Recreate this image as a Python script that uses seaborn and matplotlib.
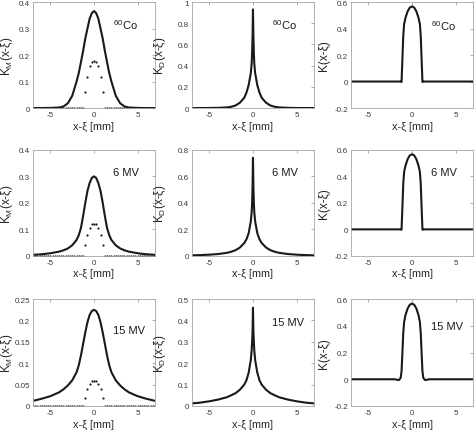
import numpy as np
import matplotlib
matplotlib.use("Agg")
import matplotlib.pyplot as plt
import seaborn as sns

# ---- data ----
km_x = [-7, -6, -5, -4, -3.5, -3, -2.5, -2, -1.75, -1.5, -1.25, -1, -0.75, -0.5, -0.25, 0,
        0.25, 0.5, 0.75, 1, 1.25, 1.5, 1.75, 2, 2.5, 3, 3.5, 4, 5, 6, 7]
km_co = [0, 0, 0.0005, 0.002, 0.006, 0.018, 0.046, 0.1, 0.132, 0.173, 0.215, 0.262, 0.3, 0.337, 0.358, 0.366,
         0.358, 0.337, 0.3, 0.262, 0.215, 0.173, 0.132, 0.1, 0.046, 0.018, 0.006, 0.002, 0.0005, 0, 0]
km_6mv = [0.004, 0.006, 0.01, 0.016, 0.021, 0.028, 0.04, 0.06, 0.078, 0.105, 0.15, 0.2, 0.245, 0.275, 0.294, 0.3,
          0.294, 0.275, 0.245, 0.2, 0.15, 0.105, 0.078, 0.06, 0.04, 0.028, 0.021, 0.016, 0.01, 0.006, 0.004]
km_15mv = [0.012, 0.017, 0.023, 0.032, 0.039, 0.048, 0.06, 0.079, 0.095, 0.118, 0.145, 0.172, 0.196, 0.213, 0.222, 0.225,
           0.222, 0.213, 0.196, 0.172, 0.145, 0.118, 0.095, 0.079, 0.06, 0.048, 0.039, 0.032, 0.023, 0.017, 0.012]

# dotted component, sampled every 0.25 mm
dot_x = np.linspace(-7, 7, 57)
dot_co = [0] * 24 + [0.06, 0.118, 0.157, 0.175, 0.178, 0.175, 0.157, 0.118, 0.06] + [0] * 24
dot_6mv = [0] * 24 + [0.04, 0.08, 0.105, 0.12, 0.122, 0.12, 0.105, 0.08, 0.04] + [0] * 24
dot_15mv = [0] * 24 + [0.019, 0.04, 0.052, 0.058, 0.059, 0.058, 0.052, 0.04, 0.019] + [0] * 24

kd_x = [-7, -6, -5, -4, -3, -2.5, -2, -1.5, -1, -0.75, -0.5, -0.25, -0.15, -0.1, -0.05, 0,
        0.05, 0.1, 0.15, 0.25, 0.5, 0.75, 1, 1.5, 2, 2.5, 3, 4, 5, 6, 7]
kd_co = [0, 0, 0.0005, 0.002, 0.006, 0.012, 0.024, 0.05, 0.097, 0.145, 0.215, 0.33, 0.42, 0.52, 0.68, 0.93,
         0.68, 0.52, 0.42, 0.33, 0.215, 0.145, 0.097, 0.05, 0.024, 0.012, 0.006, 0.002, 0.0005, 0, 0]
kd_6mv = [0.004, 0.006, 0.009, 0.014, 0.023, 0.031, 0.043, 0.063, 0.097, 0.125, 0.17, 0.26, 0.33, 0.4, 0.52, 0.74,
          0.52, 0.4, 0.33, 0.26, 0.17, 0.125, 0.097, 0.063, 0.043, 0.031, 0.023, 0.014, 0.009, 0.006, 0.004]
kd_15mv = [0.012, 0.016, 0.022, 0.03, 0.041, 0.05, 0.06, 0.076, 0.1, 0.12, 0.155, 0.215, 0.26, 0.3, 0.35, 0.46,
           0.35, 0.3, 0.26, 0.215, 0.155, 0.12, 0.1, 0.076, 0.06, 0.05, 0.041, 0.03, 0.022, 0.016, 0.012]

k_x = [-7, -2, -1.5, -1.3, -1.2, -1.1, -1.0, -0.9, -0.75, -0.5, -0.25, 0,
       0.25, 0.5, 0.75, 0.9, 1.0, 1.1, 1.2, 1.3, 1.5, 2, 7]
k_co = [0, 0, 0, 0, -0.003, 0.17, 0.35, 0.435, 0.48, 0.53, 0.558, 0.567,
        0.558, 0.53, 0.48, 0.435, 0.35, 0.17, -0.003, 0, 0, 0, 0]
k_6mv = [0, 0, 0, 0, -0.003, 0.17, 0.35, 0.435, 0.48, 0.53, 0.558, 0.567,
         0.558, 0.53, 0.48, 0.435, 0.35, 0.17, -0.003, 0, 0, 0, 0]
k_15mv = [0, 0, -0.006, 0.01, 0.06, 0.2, 0.35, 0.43, 0.48, 0.53, 0.558, 0.567,
          0.558, 0.53, 0.48, 0.43, 0.35, 0.2, 0.06, 0.01, -0.006, 0, 0]

beams = ["$^{60}$Co", "6 MV", "15 MV"]
km_all = [km_co, km_6mv, km_15mv]
dot_all = [dot_co, dot_6mv, dot_15mv]
kd_all = [kd_co, kd_6mv, kd_15mv]
k_all = [k_co, k_6mv, k_15mv]

km_ylim = [(0, 0.4), (0, 0.4), (0, 0.25)]
km_yticks = [[0, 0.1, 0.2, 0.3, 0.4], [0, 0.1, 0.2, 0.3, 0.4], [0, 0.05, 0.1, 0.15, 0.2, 0.25]]
kd_ylim = [(0, 1), (0, 0.8), (0, 0.5)]
kd_yticks = [[0, 0.2, 0.4, 0.6, 0.8, 1], [0, 0.2, 0.4, 0.6, 0.8], [0, 0.1, 0.2, 0.3, 0.4, 0.5]]
k_ylim = (-0.2, 0.6)
k_yticks = [-0.2, 0, 0.2, 0.4, 0.6]

# text heights (axes fraction) of the beam labels, per row and column
label_y = [[0.79, 0.79, 0.78], [0.79, 0.79, 0.79], [0.71, 0.79, 0.75]]

sns.set_theme(style="white")
plt.rcParams["font.family"] = ["Liberation Sans", "DejaVu Sans"]
plt.rcParams["axes.unicode_minus"] = False
plt.rcParams["mathtext.fontset"] = "custom"
plt.rcParams["mathtext.rm"] = "Liberation Sans"

fig = plt.figure(figsize=(4.74, 4.31), dpi=100)

lefts = [0.0696, 0.405, 0.7405]
width = 0.2574
bottoms = [0.747, 0.404, 0.0557]
heights = [0.246, 0.246, 0.248]
ylab_x = [-0.15, -0.2, -0.17]


def style_axes(ax, ylim, yticks, ylabel, col):
    ax.set_xlim(-7, 7)
    ax.set_ylim(*ylim)
    ax.set_xticks([-5, 0, 5])
    ax.set_yticks(yticks)
    ax.yaxis.set_major_formatter(matplotlib.ticker.FormatStrFormatter("%g"))
    ax.tick_params(direction="in", length=2, width=0.5, color="#8c8c8c",
                   labelsize=5.8, labelcolor="#3a3a3a", top=True, right=True, pad=2)
    for s in ax.spines.values():
        s.set_color("#a6a6a6")
        s.set_linewidth(0.6)
    ax.set_xlabel("x-ξ [mm]", fontsize=7.8, color="#262626", labelpad=2)
    ax.set_ylabel(ylabel, fontsize=8.5, color="#262626")
    ax.yaxis.set_label_coords(ylab_x[col], 0.5)


for r in range(3):
    ax0 = fig.add_axes([lefts[0], bottoms[r], width, heights[r]])
    sns.lineplot(x=km_x, y=km_all[r], ax=ax0, color="k", lw=1.5)
    sns.scatterplot(x=dot_x, y=dot_all[r], ax=ax0, color="k", s=2.5, linewidth=0)
    style_axes(ax0, km_ylim[r], km_yticks[r], r"K$_\mathregular{M}$(x-ξ)", 0)

    ax1 = fig.add_axes([lefts[1], bottoms[r], width, heights[r]])
    sns.lineplot(x=kd_x, y=kd_all[r], ax=ax1, color="k", lw=1.5)
    style_axes(ax1, kd_ylim[r], kd_yticks[r], r"K$_\mathregular{D}$(x-ξ)", 1)

    ax2 = fig.add_axes([lefts[2], bottoms[r], width, heights[r]])
    sns.lineplot(x=k_x, y=k_all[r], ax=ax2, color="k", lw=1.5)
    style_axes(ax2, k_ylim, k_yticks, "K(x-ξ)", 2)

    for c, ax in enumerate([ax0, ax1, ax2]):
        ax.text(0.655, label_y[r][c], beams[r], transform=ax.transAxes,
                ha="left", va="center", fontsize=8, color="#1a1a1a")

fig.savefig("out.png", dpi=100)
